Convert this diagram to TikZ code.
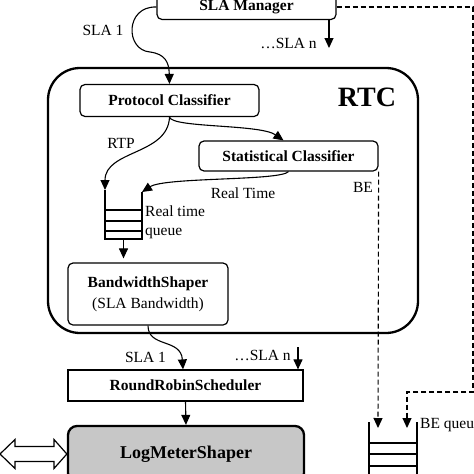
\documentclass[tikz,border=0pt]{standalone}
\usepackage{fontspec}
\setmainfont{Liberation Serif}
\usepackage{tikz}
\usetikzlibrary{arrows.meta}
\tikzstyle{edge}=[line width=1.1pt,
                  >={Triangle[length=10pt,width=9pt]}]
\tikzstyle{beedge}=[edge, dash pattern=on 5pt off 3pt]
\tikzstyle{block}=[draw, rounded corners=5pt, line width=1.2pt,
                   inner sep=0pt, align=center,
                   font=\fontsize{15.5}{19}\selectfont\bfseries]
\tikzstyle{flatblock}=[block, rounded corners=0pt]
\tikzstyle{tag}=[inner sep=0pt, font=\fontsize{15.5}{19}\selectfont]
\tikzstyle{queueline}=[line width=1.2pt]

\begin{document}
\begin{tikzpicture}[x=1pt, y=-1pt]
  \useasboundingbox (0,0) rectangle (474,474);
  \clip (0,0) rectangle (474,474);
  \begin{scope}
    % boxes
    \node (rtc) at (233,200.5) [draw, line width=2.3pt, rounded corners=32pt,
                                minimum width=370pt, minimum height=265pt]{};
    \node (rtclabel) at (367,106) [anchor=base,
                                   font=\fontsize{28}{30}\selectfont\bfseries]{RTC};
    \node (mgr) at (246.5,7)   [block, minimum width=179pt, minimum height=25pt,
                                text height=11pt, text depth=4pt]{SLA Manager};
    \node (pc)  at (169.5,100.5) [block, minimum width=179pt, minimum height=32pt]{Protocol Classifier};
    \node (sc)  at (288.5,156) [block, minimum width=179pt, minimum height=30pt]{Statistical Classifier};
    \node (bws) at (148,294)   [block, minimum width=160pt, minimum height=62pt,
                                font=\fontsize{15.5}{21}\selectfont\bfseries]
                               {BandwidthShaper\\\mdseries(SLA Bandwidth)};
    \node (rrs) at (185.5,385.5) [flatblock, minimum width=235pt, minimum height=31pt]{RoundRobinScheduler};
    \node (lms) at (186,454)   [block, fill=black!22, rounded corners=9pt, line width=2.3pt,
                                minimum width=236pt, minimum height=56pt,
                                font=\fontsize{18}{22}\selectfont\bfseries]{LogMeterShaper};

    % free ends
    \coordinate (slan)    at (329,48);
    \coordinate (rtqin)   at (105,190);
    \coordinate (rtqrt)   at (142,192);
    \coordinate (rtqout)  at (123.5,239);
    \coordinate (rrsn)    at (298,347);
    \coordinate (bein)    at (378,428);
    \coordinate (beturn)  at (473,392);
    \coordinate (beslain) at (407,428);

    % queues
    \draw [queueline] (rtqin) |- (rtqrt |- rtqout) -- (rtqrt);
    \foreach \y in {210,221,231}
      \draw [queueline] (105,\y) -- (142,\y);
    \draw [queueline] (369,422) -- (369,480);
    \draw [queueline] (417,422) -- (417,480);
    \foreach \y in {443,454,466}
      \draw [queueline] (369,\y) -- (417,\y);

    % straight edges
    \draw [edge,->] (mgr.south -| slan) -- (slan);
    \draw [edge,->,shorten >=4pt] (rtqout) -- (rtqout |- bws.north);
    \draw [edge,->] (rrsn) -- (rrsn |- rrs.north);
    \draw [edge,->] (rrs.south) -- (lms.north);

    % curved edges
    \draw [edge,->] (mgr.west) .. controls (125,6) and (125,50) .. (150,52)
                               .. controls (165,54) and (169,62) .. (pc.north);
    \draw [edge,->] (pc.south) .. controls (172,128) and (260,124) .. ([xshift=-5pt]sc.north);
    \draw [edge,->] (pc.south) .. controls (168,155) and (105,150) .. (rtqin);
    \draw [edge,->] (sc.south) .. controls (280,181) and (165,177) .. (rtqrt);
    \draw [edge,->] (bws.south) .. controls (148,348) and (181,338) .. ([xshift=-2.5pt]rrs.north);

    % best effort path
    \draw [beedge,->] (sc.south east) -- (bein);
    \draw [beedge,->] (mgr.east) -| (beturn) -| (beslain);

    % outside link
    \draw [line width=1.2pt, fill=white] (lms.west) -- (54,439.5) -- (54,446.5) -- (15,446.5)
          -- (15,439.5) -- (0,454) -- (15,468.5) -- (15,461.5) -- (54,461.5)
          -- (54,468.5) -- cycle;

    % labels
    \node (sla1top)  at (103,30)    [tag]{SLA 1};
    \node (slantop)  at (288.5,43)  [tag]{…SLA n};
    \node (rtp)      at (121,143)   [tag]{RTP};
    \node (realtime) at (243,193)   [tag]{Real Time};
    \node (be)       at (363,187)   [tag]{BE};
    \node (rtqlabel) at (145,222.5) [tag, anchor=west, align=left]{Real time\\queue};
    \node (sla1bot)  at (145.5,357) [tag]{SLA 1};
    \node (slanbot)  at (262.5,355) [tag]{…SLA n};
    \node (bequeue)  at (420,425)   [tag, anchor=west]{BE queue};
  \end{scope}
\end{tikzpicture}
\end{document}
